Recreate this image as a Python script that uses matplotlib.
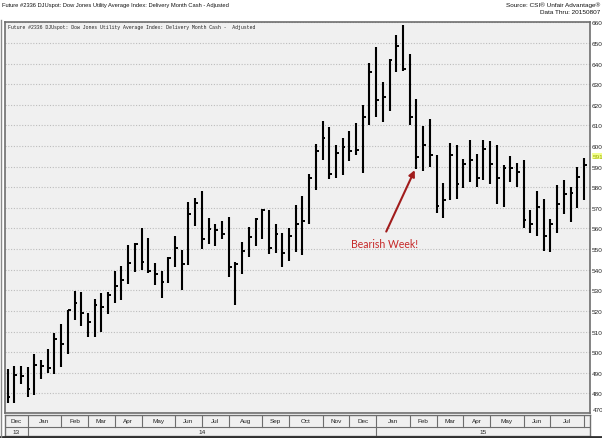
import numpy as np
import matplotlib
matplotlib.use("Agg")
from matplotlib import pyplot as plt
from matplotlib import font_manager
from matplotlib.lines import Line2D

# weekly bars: high, low, close  (Dec 2013 - Aug 2015)
highs = [491.6, 493.2, 493.2, 492.7, 498.9, 496.0, 501.6, 509.4, 513.8, 520.7,
         529.6, 529.1, 519.1, 525.6, 528.8, 529.1, 539.3, 541.7, 551.8, 553.1,
         560.4, 555.2, 543.4, 539.3, 546.3, 556.3, 549.8, 573.0, 574.9, 578.2,
         564.9, 562.0, 563.6, 565.5, 543.7, 553.4, 560.7, 565.2, 569.3, 568.8,
         562.0, 557.9, 560.3, 571.6, 575.6, 586.6, 601.1, 611.9, 609.2, 600.6,
         603.9, 607.3, 611.3, 619.7, 640.2, 647.9, 631.0, 642.3, 653.9, 658.7,
         644.4, 622.9, 609.5, 613.2, 595.5, 582.1, 601.5, 600.3, 593.9, 602.7,
         596.3, 603.1, 602.4, 600.3, 590.6, 595.2, 591.9, 593.1, 569.2, 578.2,
         574.2, 564.8, 581.0, 583.7, 580.0, 590.0, 594.0]
lows = [475.4, 475.4, 484.6, 478.3, 479.1, 487.2, 490.0, 489.2, 492.9, 498.9,
        515.4, 512.9, 507.3, 507.3, 509.7, 518.3, 523.9, 525.2, 533.2, 538.8,
        540.1, 538.2, 532.5, 526.1, 533.7, 541.3, 530.4, 542.1, 561.2, 550.2,
        552.6, 551.5, 554.7, 536.6, 522.7, 537.7, 546.3, 551.5, 555.0, 547.4,
        548.2, 541.4, 544.2, 548.7, 547.1, 562.4, 578.5, 593.1, 583.9, 584.5,
        585.8, 592.7, 595.8, 587.1, 610.0, 614.0, 611.6, 616.8, 635.8, 636.6,
        610.0, 588.7, 587.7, 589.8, 567.3, 565.2, 573.7, 574.5, 579.4, 582.3,
        580.2, 583.4, 581.8, 572.1, 570.5, 582.6, 580.2, 560.0, 557.6, 556.3,
        549.2, 548.7, 557.6, 566.8, 563.0, 570.0, 574.0]
closes = [478.3, 488.7, 488.3, 482.2, 494.0, 493.2, 492.4, 506.6, 504.2, 520.4,
          523.9, 519.1, 514.6, 522.8, 522.0, 527.7, 532.0, 534.8, 543.4, 552.6,
          543.9, 539.6, 537.7, 534.1, 545.8, 550.6, 542.6, 566.8, 572.2, 554.7,
          559.9, 559.5, 557.1, 541.3, 542.9, 549.0, 555.8, 564.4, 568.8, 550.3,
          557.1, 548.2, 556.5, 562.4, 563.5, 584.5, 597.6, 604.0, 586.6, 596.8,
          599.5, 597.4, 598.2, 614.0, 636.1, 622.4, 624.0, 641.5, 648.4, 637.4,
          614.0, 594.7, 600.6, 595.5, 570.8, 573.7, 595.8, 581.5, 591.1, 593.1,
          584.5, 598.7, 591.1, 584.5, 589.5, 589.4, 587.4, 564.0, 562.1, 570.5,
          556.3, 562.1, 572.1, 576.6, 577.0, 585.0, 591.0]

months = ['Dec', 'Jan', 'Feb', 'Mar', 'Apr', 'May', 'Jun', 'Jul', 'Aug', 'Sep',
          'Oct', 'Nov', 'Dec', 'Jan', 'Feb', 'Mar', 'Apr', 'May', 'Jun', 'Jul']
month_start = [-0.45, 3, 8, 12, 16, 20, 25, 29, 33, 38, 42, 47, 51, 55, 60, 64,
               68, 72, 77, 81, 86]
years = ['13', '14', '15']
year_start = [-0.45, 3, 55]

yticks = list(range(480, 661, 10))
last_close = 591


def have(name):
    try:
        font_manager.findfont(name, fallback_to_default=False)
        return True
    except Exception:
        return False


# a narrow face for the small chart texts, if there is one
if have('Liberation Sans Narrow'):
    small, fs = ['Liberation Sans Narrow', 'DejaVu Sans'], 5.2
else:
    small, fs = ['Liberation Sans', 'DejaVu Sans'], 4.6

x = np.arange(len(highs))
xmin, xmax = -0.45, 86.9

fig = plt.figure(figsize=(6.02, 4.39), dpi=100)
fig.patch.set_facecolor('white')

ax = fig.add_axes([4.5 / 602, 25 / 439, 585.5 / 602, 390.7 / 439])
ax.set_facecolor('#f0f0f0')
ax.set_xlim(xmin, xmax)
ax.set_ylim(470.5, 660)
for s in ax.spines.values():
    s.set_color('#6e6e6e')
    s.set_linewidth(1.2)
ax.set_yticks(yticks)
ax.yaxis.tick_right()
ax.tick_params(axis='y', length=0, pad=1.5, labelsize=fs, labelcolor='#222222')
for lab in ax.get_yticklabels():
    lab.set_family(small)
ax.set_xticks([])
ax.grid(axis='y', linestyle=(0, (1, 1.5)), color='#bdbdbd', lw=0.8)
ax.set_axisbelow(True)

# the bars
ax.vlines(x, lows, highs, color='black', lw=1.5)
ax.hlines(closes, x, x + 0.42, color='black', lw=1.4)

# last price label
ax.text(1.004, 595.0, str(last_close), transform=ax.get_yaxis_transform(),
        fontsize=fs, family=small, color='#9aab00', va='center', ha='left',
        bbox=dict(boxstyle='square,pad=0.08', fc='#f2ff8c', ec='none'))
ax.text(1.004, 471, '470', transform=ax.get_yaxis_transform(),
        fontsize=fs, family=small, color='#222222', va='bottom', ha='left')

# chart header inside
ax.text(0.006, 0.995, 'Future #2336 DJUspot: Dow Jones Utility Average Index: Delivery Month Cash -  Adjusted',
        transform=ax.transAxes, fontsize=3.55, family=['Liberation Mono', 'DejaVu Sans Mono'],
        va='top', ha='left', color='#222222')

# annotation
ax.annotate('', xy=(60.75, 588.3), xytext=(56.5, 558.5),
            arrowprops=dict(arrowstyle='-|>', color='#a11c1c', lw=1.5, mutation_scale=9,
                            shrinkA=0, shrinkB=0))
ax.text(56.2, 552.5, 'Bearish Week!', color='#c62828', fontsize=7.6,
        family=['Lato', 'DejaVu Sans'], ha='center', va='center')

# month / year strip
sx = fig.add_axes([4.5 / 602, 2 / 439, 585.5 / 602, 21 / 439])
sx.set_xlim(xmin, xmax)
sx.set_ylim(0, 1)
sx.set_facecolor('#f0f0f0')
sx.set_xticks([])
sx.set_yticks([])
for s in sx.spines.values():
    s.set_color('#6e6e6e')
    s.set_linewidth(1.0)
sx.axhline(0.45, color='#6e6e6e', lw=0.8)
for i, m in enumerate(months):
    a, b = month_start[i], month_start[i + 1]
    sx.plot([b, b], [0.45, 1], color='#6e6e6e', lw=0.8)
    sx.text((a + b) / 2, 0.72, m, ha='center', va='center', fontsize=fs,
            family=small, color='#222222')
year_end = year_start[1:] + [xmax]
for i, yname in enumerate(years):
    a, b = year_start[i], year_end[i]
    if i > 0:
        sx.plot([a, a], [0, 0.45], color='#6e6e6e', lw=0.8)
    sx.text((a + b) / 2, 0.22, yname, ha='center', va='center', fontsize=fs,
            family=small, color='#222222')

# top header
fig.text(2 / 602, 1 - 6 / 439, 'Future #2336 DJUspot: Dow Jones Utility Average Index: Delivery Month Cash - Adjusted',
         fontsize=fs * 0.9, family=small, va='center', ha='left', color='#111111')
fig.text(600 / 602, 1 - 5 / 439, 'Source: CSI\u00ae Unfair Advantage\u00ae',
         fontsize=fs, family=small, va='center', ha='right', color='#111111')
fig.text(600 / 602, 1 - 13 / 439, 'Data Thru: 20150807',
         fontsize=fs, family=small, va='center', ha='right', color='#111111')

# outer frame lines of the screenshot
fig.add_artist(Line2D([0, 1], [1 / 439, 1 / 439], color='#303030', lw=2))
fig.add_artist(Line2D([1 / 602, 1 / 602], [0, 1 - 21 / 439], color='#8a8a8a', lw=1))

plt.savefig('out.png', dpi=100)
